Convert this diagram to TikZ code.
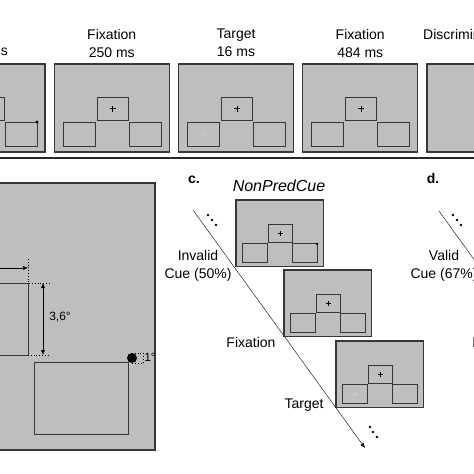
\documentclass[tikz,border=0pt]{standalone}
\usepackage{fontspec}
\setmainfont{Liberation Sans}
\usetikzlibrary{arrows.meta}

\definecolor{screengray}{RGB}{190,190,190}
\definecolor{edgegray}{RGB}{55,55,55}

\tikzset{
  frame/.style={draw=edgegray, fill=screengray, line width=1.1pt},
  box/.style={draw=edgegray, line width=1pt},
  lbl/.style={font=\fontsize{14}{18}\selectfont, align=center, inner sep=0pt},
  small/.style={font=\fontsize{12}{14}\selectfont, inner sep=0pt},
  tip/.style={-{Latex[length=5pt,width=4pt]}},
  screen/.pic={
    \path[frame] (0,0) rectangle (115,88);
    \path[box] (43,33) rectangle (74,56);
    \path[box] (9,58) rectangle (41,82);
    \path[box] (75,58) rectangle (107,82);
    \draw[line width=0.6pt] (55.5,44.5) -- (61.5,44.5) (58.5,41.5) -- (58.5,47.5);
    \coordinate (-cue) at (107,58);
    \coordinate (-tgt) at (25,70);
  }
}

\begin{document}
\begin{tikzpicture}[x=1pt, y=-1pt]
        \useasboundingbox (0,0) rectangle (474,474);
        \clip (0,0) rectangle (474,474);

        % Panel a: trial sequence
        \pic (f1) at (-70,64) {screen};
        \pic (f2) at (54.25,64) {screen};
        \pic (f3) at (178.5,64) {screen};
        \pic (f4) at (302.75,64) {screen};
        \path[frame] (427,64) rectangle (542,152);
        \fill (f1-cue) circle (1.6);
        \shade[inner color=gray!45, outer color=screengray] (f3-tgt) circle (5);

        \node[lbl, anchor=east] (t1) at (8,52) {ms};
        \node[lbl] (t2) at (111.75,43) {Fixation\\250 ms};
        \node[lbl] (t3) at (236,43) {Target\\16 ms};
        \node[lbl] (t4) at (360.25,43) {Fixation\\484 ms};
        \node[lbl, anchor=west] (t5) at (423,34) {Discrimination};

        \draw[gray!30!black, line width=1.2pt] (0,158) -- (474,158);

        % Panel b: display layout
        \path[frame, line width=1.3pt] (-80,183) rectangle (155,450);
        \path[box] (-66,283) rectangle (28,355);
        \path[box] (34,362) rectangle (128,434);
        \coordinate (w-a) at (-80,268);
        \coordinate (w-b) at (28,268);
        \coordinate (h-a) at (43,283);
        \coordinate (h-b) at (43,355);
        \draw[tip] (w-a) -- (w-b);
        \draw[{Latex[length=5pt,width=4pt]}-{Latex[length=5pt,width=4pt]}] (h-a) -- (h-b);
        \draw[dotted, thick] (28,259) -- (28,283) -- (50,283);
        \draw[dotted, thick] (28,355) -- (50,355);
        \node[small] (deg36) at (60,317) {3,6°};
        \fill (132,358) circle (5);
        \draw[dotted, thick] (132,353) -- (143,353) -- (143,363) -- (132,363);
        \node[small] (deg1) at (150,357) {1°};

        % Panel c: NonPredCue
        \node[lbl, font=\bfseries\fontsize{14}{16}\selectfont] (c) at (194,180) {c.};
        \node[lbl, font=\itshape\fontsize{16}{18}\selectfont] (ctitle) at (279,186) {NonPredCue};
        \coordinate (c-start) at (193,210);
        \coordinate (c-end) at (365,448);
        \draw[tip] (c-start) -- (c-end);
        \foreach \p in {(208,215),(212,220),(216,225),(370,427),(373,432),(377,437)}
          \fill \p circle (1.3);
        \pic[scale=0.757] (c1) at (236,200) {screen};
        \pic[scale=0.757] (c2) at (284,270) {screen};
        \pic[scale=0.757] (c3) at (336,341) {screen};
        \fill (c1-cue) circle (1.3);
        \shade[inner color=gray!40, outer color=screengray] (c3-tgt) circle (3.5);
        \node[lbl] (cinv) at (198,266) {Invalid\\Cue (50\%)};
        \node[lbl] (cfix) at (251,342) {Fixation};
        \node[lbl] (ctgt) at (304,405) {Target};

        % Panel d: valid cue
        \node[lbl, font=\bfseries\fontsize{14}{16}\selectfont] (d) at (433,178) {d.};
        \coordinate (d-start) at (439,211);
        \coordinate (d-end) at (611,449);
        \draw (d-start) -- (d-end);
        \foreach \p in {(453,215),(457,220),(461,225)}
          \fill \p circle (1.3);
        \node[lbl] (dval) at (444,266) {Valid\\Cue (67\%)};
        \node[lbl] (dfix) at (497,342) {Fixation};
\end{tikzpicture}
\end{document}
